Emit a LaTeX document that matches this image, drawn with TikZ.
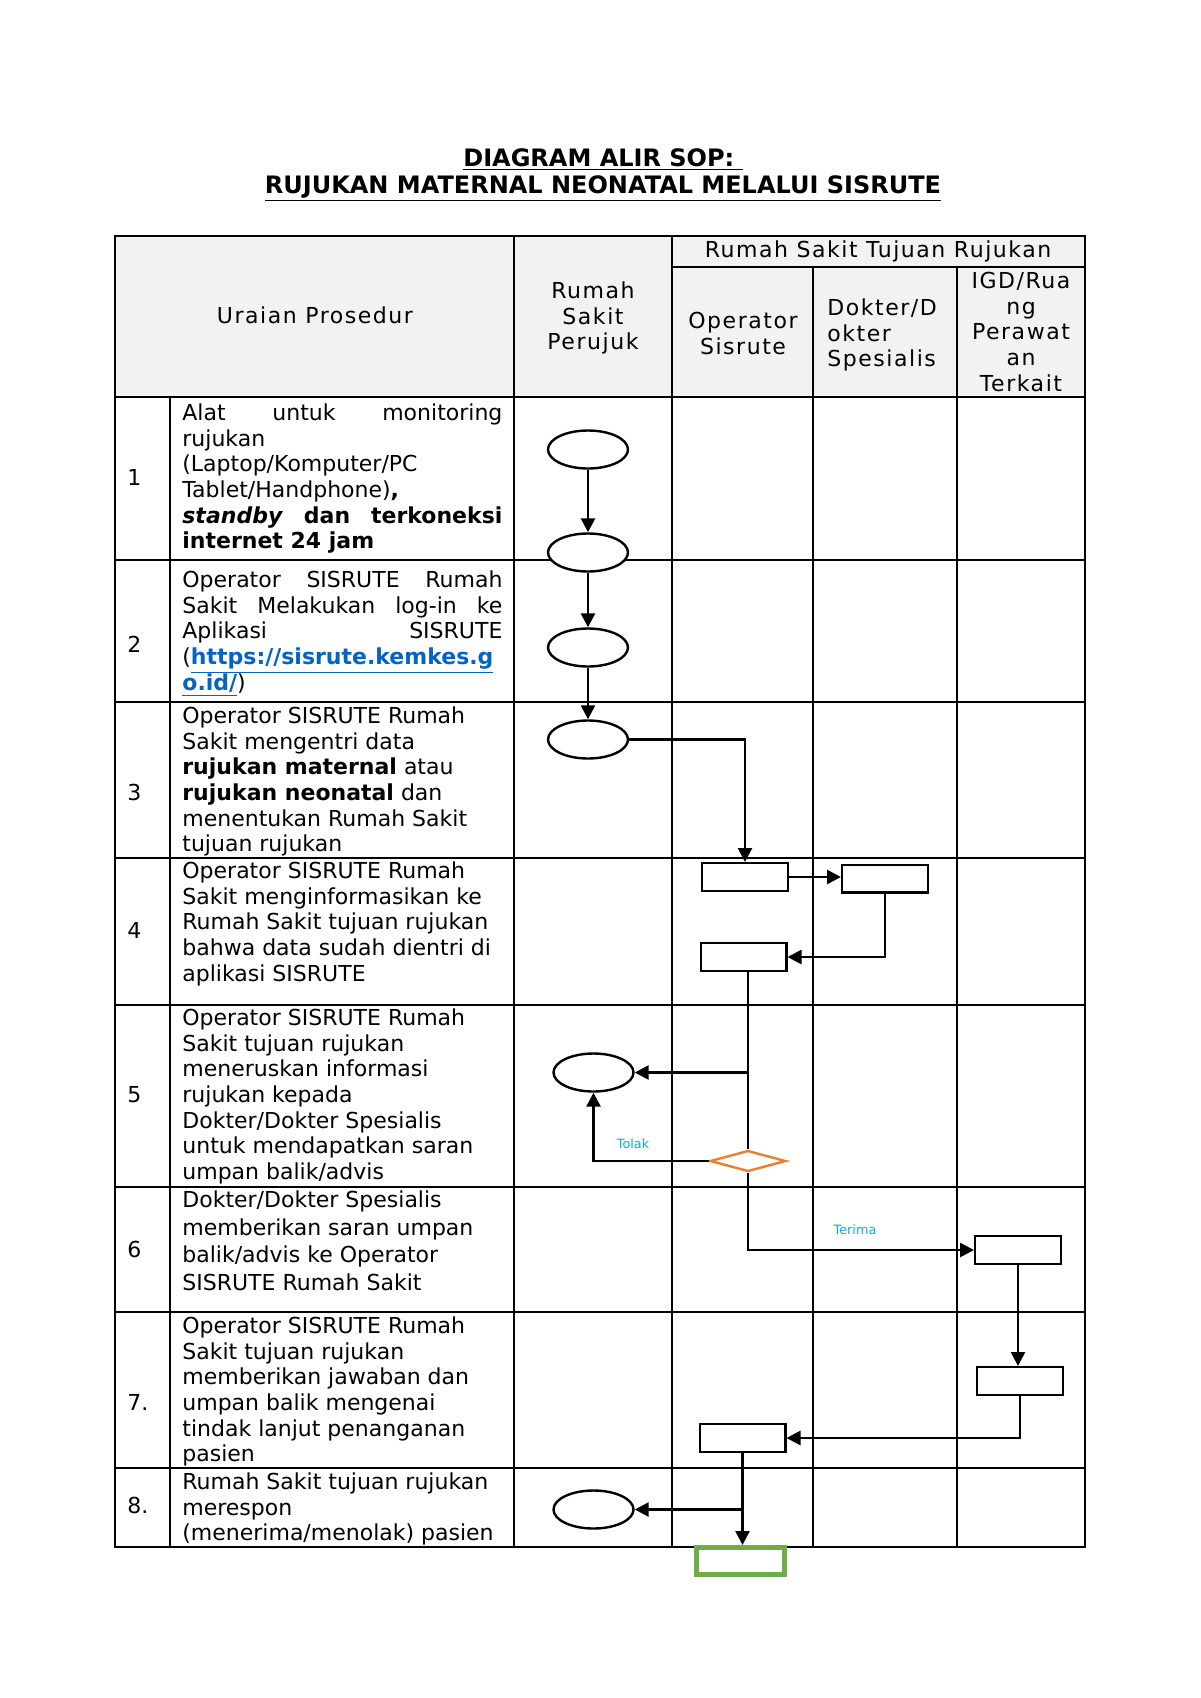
\documentclass[tikz,border=0pt]{standalone}
\usepackage{fontspec}
\setmainfont{DejaVu Sans}
\newfontfamily\hdrfont[LetterSpace=7]{DejaVu Sans}
\usetikzlibrary{shapes.geometric,arrows.meta}
\definecolor{hdrgray}{HTML}{F2F2F2}
\definecolor{linkblue}{HTML}{0563C1}
\definecolor{labelblue}{HTML}{00B0F0}
\definecolor{diaorange}{HTML}{ED7D31}
\definecolor{boxgreen}{HTML}{70AD47}
\newcommand{\fstrut}{\rule{0pt}{9pt}}
\newcommand{\fullline}[1]{\makebox[160pt][s]{#1}}
\newcommand{\lnk}[1]{\textcolor{linkblue}{\bfseries\underline{#1}}}
\begin{document}
\begin{tikzpicture}[x=0.5pt, y=-0.5pt, >={Triangle[length=7pt,width=7pt]},
    thickrule/.style={line width=1.3pt},
    thinrule/.style={line width=0.8pt},
    hdrtext/.style={font=\hdrfont\fontsize{11}{12.85}\selectfont, align=center, inner sep=0pt},
    steptext/.style={font=\fontsize{11}{12.85}\selectfont, align=left, inner sep=0pt, anchor=north west},
    numtext/.style={font=\fontsize{11}{12.85}\selectfont, inner sep=0pt, anchor=base west},
    flowoval/.style={ellipse, draw, fill=white, line width=1.2pt, minimum width=40pt, minimum height=19pt, inner sep=0pt},
    flowbox/.style={rectangle, draw, fill=white, line width=1.2pt, minimum width=42.8pt, minimum height=13.8pt, inner sep=0pt},
    flowline/.style={line width=1.3pt},
    flowlabel/.style={font=\fontsize{6.4}{7}\selectfont, text=labelblue, inner sep=0pt}]
  \useasboundingbox (0,0) rectangle (1200,1698);
  % judul
  \node[font=\bfseries\fontsize{12}{13.5}\selectfont, anchor=base, inner sep=0pt] (judul1) at (603,166) {\underline{DIAGRAM ALIR SOP:\ }};
  \node[font=\bfseries\fontsize{12}{13.5}\selectfont, anchor=base, inner sep=0pt] (judul2) at (603,193) {\underline{RUJUKAN MATERNAL NEONATAL MELALUI SISRUTE}};
  % tabel
  \coordinate (A) at (115,236);
  \coordinate (B) at (1085,236);
  \coordinate (C) at (1085,1547);
  \coordinate (D) at (115,1547);
  \fill[hdrgray] (A) rectangle (1085,397);
  \draw[thickrule] (A) -- (B) -- (C) -- (D) -- cycle;
  \foreach \y in {397,560,858,1005,1187,1312,1468}
    \draw[thickrule] (115,\y) -- (1085,\y);
  \draw[thinrule] (115,702) -- (1085,702);
  \draw[thickrule] (672,267) -- (1085,267);
  \draw[thickrule] (170,397) -- (170,1547) (514,236) -- (514,1547) (813,267) -- (813,1547);
  \draw[thinrule] (672,236) -- (672,1547) (957,267) -- (957,1547);
  % kepala tabel
  \node[hdrtext, anchor=base] (hUraian) at (315,323) {Uraian Prosedur};
  \node[hdrtext, anchor=north] (hPerujuk) at (593,280) {\fstrut Rumah\\Sakit\\Perujuk};
  \node[hdrtext, anchor=base] (hTujuan) at (878,257) {Rumah Sakit Tujuan Rujukan};
  \node[hdrtext, anchor=north] (hOperator) at (743,310) {\fstrut Operator\\Sisrute};
  \node[hdrtext, anchor=north west, align=left] (hDokter) at (827,297) {\fstrut Dokter/D\\okter\\Spesialis};
  \node[hdrtext, anchor=north] (hIGD) at (1021,270) {\fstrut IGD/Rua\\ng\\Perawat\\an\\Terkait};
  % nomor
  \node[numtext] (n1) at (127,485) {1};
  \node[numtext] (n2) at (127,652) {2};
  \node[numtext] (n3) at (127,800) {3};
  \node[numtext] (n4) at (127,938) {4};
  \node[numtext] (n5) at (127,1102) {5};
  \node[numtext] (n6) at (127,1257) {6};
  \node[numtext] (n7) at (127,1410) {7.};
  \node[numtext] (n8) at (127,1513) {8.};
  % uraian
  \node[steptext] (u1) at (182,402) {\fstrut\fullline{Alat untuk monitoring}\\
    rujukan\\
    (Laptop/Komputer/PC\\
    Tablet/Handphone)\textbf{,}\\
    \textbf{\fullline{\textit{standby} dan terkoneksi}}\\
    \textbf{internet 24 jam}};
  \node[steptext] (u2) at (182,569) {\fstrut\fullline{Operator SISRUTE Rumah}\\
    \fullline{Sakit Melakukan log-in ke}\\
    \fullline{Aplikasi SISRUTE}\\
    (\lnk{https://sisrute.kemkes.g}\\
    \lnk{o.id/})};
  \node[steptext] (u3) at (182,705) {\fstrut Operator SISRUTE Rumah\\
    Sakit mengentri data\\
    \textbf{rujukan maternal} atau\\
    \textbf{rujukan neonatal} dan\\
    menentukan Rumah Sakit\\
    tujuan rujukan};
  \node[steptext] (u4) at (182,860) {\fstrut Operator SISRUTE Rumah\\
    Sakit menginformasikan ke\\
    Rumah Sakit tujuan rujukan\\
    bahwa data sudah dientri di\\
    aplikasi SISRUTE};
  \node[steptext] (u5) at (182,1007) {\fstrut Operator SISRUTE Rumah\\
    Sakit tujuan rujukan\\
    meneruskan informasi\\
    rujukan kepada\\
    Dokter/Dokter Spesialis\\
    untuk mendapatkan saran\\
    umpan balik/advis};
  \node[steptext, font=\fontsize{11}{13.85}\selectfont] (u6) at (182,1189) {\fstrut Dokter/Dokter Spesialis\\
    memberikan saran umpan\\
    balik/advis ke Operator\\
    SISRUTE Rumah Sakit};
  \node[steptext] (u7) at (182,1315) {\fstrut Operator SISRUTE Rumah\\
    Sakit tujuan rujukan\\
    memberikan jawaban dan\\
    umpan balik mengenai\\
    tindak lanjut penanganan\\
    pasien};
  \node[steptext] (u8) at (182,1471) {\fstrut Rumah Sakit tujuan rujukan\\
    merespon\\
    (menerima/menolak) pasien};
  % bagan alir
  \node[flowoval] (e1) at (588,449.5) {};
  \node[flowoval] (e2) at (588,552.5) {};
  \node[flowoval] (e3) at (588,647.5) {};
  \node[flowoval] (e4) at (588,739.5) {};
  \node[flowbox] (b1) at (745,877) {};
  \node[flowbox] (b2) at (885,878.5) {};
  \node[flowbox] (b3) at (743.5,957) {};
  \node[diamond, draw=diaorange, fill=white, line width=1.2pt, minimum width=38pt, minimum height=10.5pt, inner sep=0pt] (dia) at (748,1161) {};
  \node[flowoval] (e5) at (593.5,1072.5) {};
  \node[flowbox] (b4) at (1018,1250) {};
  \node[flowbox] (b5) at (1020,1381) {};
  \node[flowbox] (b6) at (742.5,1438) {};
  \node[flowoval] (e6) at (593.5,1509.5) {};
  \node[rectangle, draw=boxgreen, line width=2.5pt, minimum width=44pt, minimum height=13.5pt, inner sep=0pt] (grn) at (740.5,1561) {};
  \draw[flowline,->] (e1) -- (e2);
  \draw[flowline,->] (e2) -- (e3);
  \draw[flowline,->] (e3) -- (e4);
  \draw[flowline,->] (e4.east) -| (b1.north);
  \draw[flowline,->] (b1.east) -- (b1.east -| b2.west);
  \draw[flowline,->] (b2.south) |- (b3.east);
  \draw[flowline] (b3.south -| dia.north) -- (dia.north);
  \draw[flowline,->] (dia.north |- e5.east) -- (e5.east);
  \draw[flowline,->] (dia.west) -| (e5.south);
  \draw[flowline,->] (dia.south) |- (b4.west);
  \draw[flowline,->] (b4.south) -- (b4.south |- b5.north);
  \draw[flowline,->] (b5.south) |- (b6.east);
  \draw[flowline,->] (b6.south) -- (b6.south |- grn.north);
  \draw[flowline,->] (b6.south |- e6.east) -- (e6.east);
  \node[flowlabel] (tolak) at (633,1144) {Tolak};
  \node[flowlabel] (terima) at (855,1230) {Terima};
\end{tikzpicture}
\end{document}
